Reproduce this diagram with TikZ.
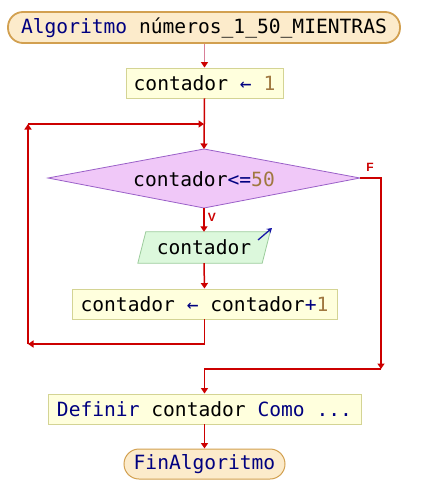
\documentclass[tikz,border=0pt]{standalone}
\usepackage{fontspec}
\setmonofont{DejaVu Sans Mono}
\setsansfont{Liberation Sans}
\usetikzlibrary{arrows.meta}
\definecolor{kwblue}{HTML}{000080}
\definecolor{numbrown}{HTML}{A07840}
\definecolor{termfill}{HTML}{FCEBCB}
\definecolor{termline}{HTML}{D2A050}
\definecolor{boxfill}{HTML}{FFFFDD}
\definecolor{boxline}{HTML}{D4D494}
\definecolor{dfill}{HTML}{F0C8F8}
\definecolor{dline}{HTML}{9A60C8}
\definecolor{pfill}{HTML}{DCF8DC}
\definecolor{pline}{HTML}{9CCC9C}
\definecolor{flow}{HTML}{CC0000}
\definecolor{flowpink}{HTML}{D88098}
\definecolor{outarrow}{HTML}{1818A8}
\begin{document}
\begin{tikzpicture}[x=1pt,y=-1pt,
  every node/.style={font=\ttfamily\fontsize{19.6}{22}\selectfont, inner sep=0pt},
  term/.style={draw=termline, line width=1.8pt, fill=termfill, rounded corners=15pt, minimum height=31pt},
  procbox/.style={draw=boxline, line width=0.9pt, fill=boxfill, minimum height=30pt},
  flowline/.style={draw=flow, line width=1.5pt},
  arr/.style={flowline, -{Triangle[width=7pt,length=5.5pt]}},
  lbl/.style={font=\sffamily\bfseries\fontsize{12}{12}\selectfont, text=flow}
]
\useasboundingbox (0,0) rectangle (447,503);

% connector points
\coordinate (dT) at (204,149);
\coordinate (dB) at (204,208);
\coordinate (dL) at (48,178);
\coordinate (dR) at (360,178);
\coordinate (lb) at (28,344);
\coordinate (lt) at (28,124);
\coordinate (lj) at (204,124);
\coordinate (fr) at (381,178);
\coordinate (fb) at (381,369);
\coordinate (dj) at (204.5,369);

% nodes
\node[term, minimum width=392pt] (start) at (204,27.5) {\textcolor{kwblue}{Algoritmo} números\_1\_50\_MIENTRAS};
\node[procbox, minimum width=157pt] (init) at (204.5,83) {contador \textcolor{kwblue}{←} \textcolor{numbrown}{1}};

\draw[draw=dline, line width=0.8pt, fill=dfill] (dT) -- (dR) -- (dB) -- (dL) -- cycle;
\node (cond) at (204,179) {contador\textcolor{kwblue}{<=}\textcolor{numbrown}{50}};

\node[minimum width=124pt, minimum height=31pt] (out) at (204,247.5) {};
\draw[draw=pline, line width=0.8pt, fill=pfill]
  ([xshift=4pt]out.north west) -- ([xshift=4pt]out.north east) -- ([xshift=-4pt]out.south east) -- ([xshift=-4pt]out.south west) -- cycle;
\node at (out.center) {contador};
\draw[draw=outarrow, line width=1.3pt, -{Stealth[width=6pt,length=5pt]}] (258,240) -- (272,228);

\node[procbox, minimum width=265pt] (inc) at (204.5,304) {contador \textcolor{kwblue}{←} contador\textcolor{kwblue}{+}\textcolor{numbrown}{1}};
\node[procbox, minimum width=313pt] (def) at (204.5,409) {\textcolor{kwblue}{Definir} contador \textcolor{kwblue}{Como ...}};
\node[term, line width=1pt, minimum width=161pt, minimum height=30pt] (fin) at (204.5,464) {\textcolor{kwblue}{FinAlgoritmo}};

% flow
\draw[draw=flowpink, line width=1.5pt, -{Triangle[width=7pt,length=5.5pt,color=flow]}] (start.south -| init.north) -- (init.north);
\draw[arr] (init.south) -- (dT);
\draw[arr] (dB) -- (out.north) node[lbl, pos=0.4, right=3pt] {V};
\draw[arr] (out.south) -- (inc.north);
\draw[arr] (inc.south) |- (lb);
\draw[arr] (lb) -- (lt);
\draw[arr] (lt) -- (lj);
\draw[arr] (dR) -- (fr) -- (fb);
\node[lbl] (flab) at (370,167) {F};
\draw[arr] (fb) -- (dj) -- (def.north);
\draw[arr] (def.south) -- (fin.north);
\end{tikzpicture}
\end{document}
